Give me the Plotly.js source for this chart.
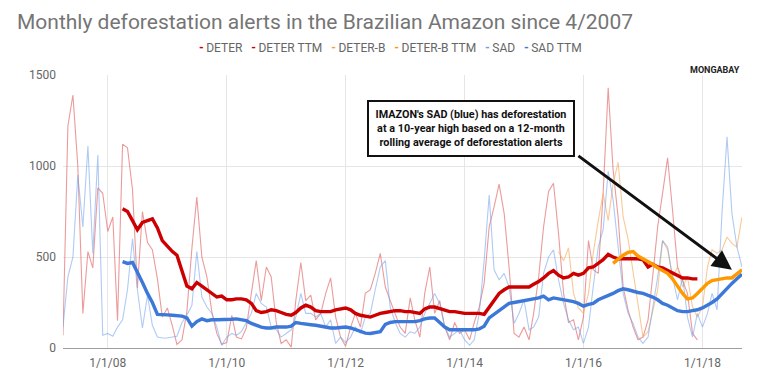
<!DOCTYPE html>
<html>
<head>
<meta charset="utf-8">
<script src="https://cdn.plot.ly/plotly-3.0.1.min.js"></script>
<style>html,body{margin:0;padding:0;background:#fff;}#chart{width:768px;height:385px;}</style>
</head>
<body>
<div id="chart"></div>
<script>
// Monthly series start in April 2007 (index 0) and run to September 2018 (index 137)
const startYear = 2007, startMonth = 4, monthCount = 138;

// DETER monthly alerts (km²), index 0..128
const deter = [70,1220,1390,1000,190,530,440,880,850,640,
  720,150,1120,1100,870,330,750,580,540,380,
  170,220,120,20,45,200,550,830,500,390,
  200,80,20,30,180,60,50,110,300,480,
  260,445,390,140,25,45,5,260,470,260,
  290,155,190,300,385,170,60,10,115,190,
  115,300,320,410,520,335,260,190,115,80,
  275,155,60,300,445,190,260,115,45,140,
  80,100,45,140,225,355,665,775,900,740,
  445,80,60,115,45,190,390,665,860,905,
  630,300,140,155,45,170,590,430,410,850,
  1430,980,720,335,210,115,45,60,155,390,
  665,850,1045,760,445,370,300,80,45];
const deterStart = 0;

// DETER trailing twelve months, index 12..128
const deterTTM = [765,750,700,650,690,700,710,660,
  590,560,530,510,420,340,325,360,340,320,
  300,280,285,265,265,270,270,265,245,205,
  195,200,210,205,195,185,180,195,220,235,
  225,205,200,200,200,210,215,220,210,190,
  180,175,170,180,190,195,200,205,205,200,
  200,195,190,215,225,225,215,205,200,200,
  195,190,190,190,190,185,225,265,300,320,
  335,335,335,335,335,350,365,385,410,425,
  400,385,390,410,400,410,440,445,465,485,
  515,500,490,490,490,490,490,485,445,460,
  445,440,425,410,400,385,385,380,380];
const deterTTMStart = 12;

// DETER-B monthly alerts, index 100..137
const deterB = [530,480,550,300,220,190,300,520,700,850,
  700,900,1020,720,600,420,230,60,90,200,
  320,590,540,390,445,335,390,225,170,225,
  445,540,520,540,610,575,555,720];
const deterBStart = 100;

// DETER-B trailing twelve months, index 111..137
const deterBTTM = [465,490,510,525,530,505,490,475,460,
  440,425,410,380,340,300,270,275,300,330,
  355,370,375,380,385,385,405,430];
const deterBTTMStart = 111;

// SAD monthly alerts, index 0..137
const sad = [115,390,500,950,665,1110,520,1060,70,80,
  65,115,155,320,600,320,110,290,125,60,
  55,55,60,65,140,180,235,530,280,225,
  190,115,15,60,80,70,90,140,190,300,
  245,225,115,100,60,80,100,170,300,190,
  190,170,190,115,155,25,60,30,60,115,
  80,170,190,320,445,480,225,140,80,60,
  90,80,115,190,245,300,245,115,60,80,
  100,45,15,45,190,480,840,430,375,410,
  335,135,190,265,100,115,170,410,500,540,
  375,245,155,100,115,25,115,335,555,650,
  970,815,555,300,190,135,60,25,60,210,
  390,590,555,390,265,390,170,60,190,115,
  190,300,210,740,1160,740,555,445];
const sadStart = 0;

// SAD trailing twelve months, index 12..137
const sadTTM = [475,465,470,420,360,300,250,185,
  185,182,180,178,175,165,120,145,160,150,
  155,155,155,155,158,160,155,150,135,125,
  115,110,110,115,115,115,120,140,135,130,
  128,125,120,115,110,110,112,115,110,100,
  90,82,80,85,90,130,140,145,145,145,
  145,145,150,160,165,165,140,115,100,100,
  100,100,100,100,105,120,165,185,210,230,
  245,250,255,260,265,270,275,285,265,275,
  270,265,260,255,245,230,240,245,265,275,
  290,300,315,325,320,310,305,300,290,280,
  265,245,235,220,205,200,200,205,210,220,
  235,250,270,300,330,355,380,405];
const sadTTMStart = 12;

const seriesNames = ['DETER','DETER TTM','DETER-B','DETER-B TTM','SAD','SAD TTM'];
const legendColors = ['#cc0000','#cc0000','#f1a23c','#ff9900','#6d9eeb','#3c78d8'];

const yTicks = [0,500,1000,1500];

const titleText = 'Monthly deforestation alerts in the Brazilian Amazon since 4/2007';
const calloutText = "IMAZON's SAD (blue) has deforestation<br>at a 10-year high based on a 12-month<br>rolling average of deforestation alerts";
const sourceText = 'MONGABAY';

// month dates
const months = [];
for (let k = 0; k < monthCount; k++) {
  const d = new Date(Date.UTC(startYear, startMonth - 1 + k, 1));
  months.push(d.toISOString().slice(0, 10));
}
function place(arr, start) {
  const out = new Array(monthCount).fill(null);
  arr.forEach((v, j) => { out[start + j] = v; });
  return out;
}

function line(name, arr, start, color, width) {
  return {type:'scatter', mode:'lines', name:name, x:months, y:place(arr, start),
    line:{color:color, width:width, shape:'linear'}, connectgaps:false, hoverinfo:'skip'};
}

const traces = [
  line('DETER', deter, deterStart, 'rgba(224,102,102,0.65)', 1.1),
  line('DETER-B', deterB, deterBStart, 'rgba(246,178,107,0.7)', 1.1),
  line('SAD', sad, sadStart, 'rgba(109,158,235,0.55)', 1.1),
  line('DETER TTM', deterTTM, deterTTMStart, '#cc0000', 3.4),
  line('DETER-B TTM', deterBTTM, deterBTTMStart, '#ff9900', 3.4),
  line('SAD TTM', sadTTM, sadTTMStart, '#3c78d8', 3.4)
];

const legendText = seriesNames.map((n, k) =>
  '<span style="color:' + legendColors[k] + '"><b>-</b></span>\u2009' + n).join('\u00a0\u00a0\u00a0');

const layout = {
  width: 768, height: 385,
  margin: {l:63, r:26, t:75, b:37, pad:0},
  paper_bgcolor:'#ffffff', plot_bgcolor:'#ffffff',
  showlegend:false,
  font:{family:'Roboto, "Noto Sans", sans-serif', color:'#666666'},
  title:{text:titleText, font:{size:21, color:'#757575', family:'Roboto, sans-serif'},
    x:17/768, xanchor:'left', xref:'container', y:1-22/385, yanchor:'middle', yref:'container'},
  xaxis:{type:'date', range:['2007-04-01','2018-09-01'], tick0:'2008-01-01', dtick:'M24',
    tickformat:'%-m/%-d/%y', showgrid:true, gridcolor:'#e6e6e6', gridwidth:1,
    ticks:'', ticklabelstandoff:6, tickfont:{size:12, color:'#666666'},
    zeroline:false, showline:false, fixedrange:true},
  yaxis:{range:[0,1500], tickvals:yTicks, ticktext:yTicks.map(String), showgrid:true,
    gridcolor:'#e6e6e6', gridwidth:1, zeroline:true, zerolinecolor:'#9e9e9e', zerolinewidth:1,
    ticks:'', ticklabelstandoff:6, tickfont:{size:12, color:'#666666'}, showline:false, fixedrange:true},
  annotations:[
    {xref:'paper', yref:'paper', x:(390-63)/679, y:(348-48)/273, xanchor:'center', yanchor:'middle',
      showarrow:false, text:legendText, font:{size:12, color:'#666666'}},
    {xref:'paper', yref:'paper', x:1, y:(348-70)/273, xanchor:'right', yanchor:'middle',
      showarrow:false, text:'<b>' + sourceText + '</b>', font:{size:9, color:'#222222'}},
    {xref:'paper', yref:'paper', x:(471-63)/679, y:(348-128.5)/273, xanchor:'center', yanchor:'middle',
      showarrow:false, text:'<b>' + calloutText + '</b>', font:{size:10.8, color:'#111111'},
      bgcolor:'#ffffff', bordercolor:'#111111', borderwidth:2, borderpad:2, width:200, height:49, align:'center'},
    {xref:'x', yref:'y', x:'2018-07-01', y:430, ax:-155, ay:-115, text:'', showarrow:true,
      arrowhead:2, arrowsize:1.3, arrowwidth:3, arrowcolor:'#111111', standoff:0}
  ]
};

Plotly.newPlot('chart', traces, layout, {staticPlot:true, displayModeBar:false});
</script>
</body>
</html>
